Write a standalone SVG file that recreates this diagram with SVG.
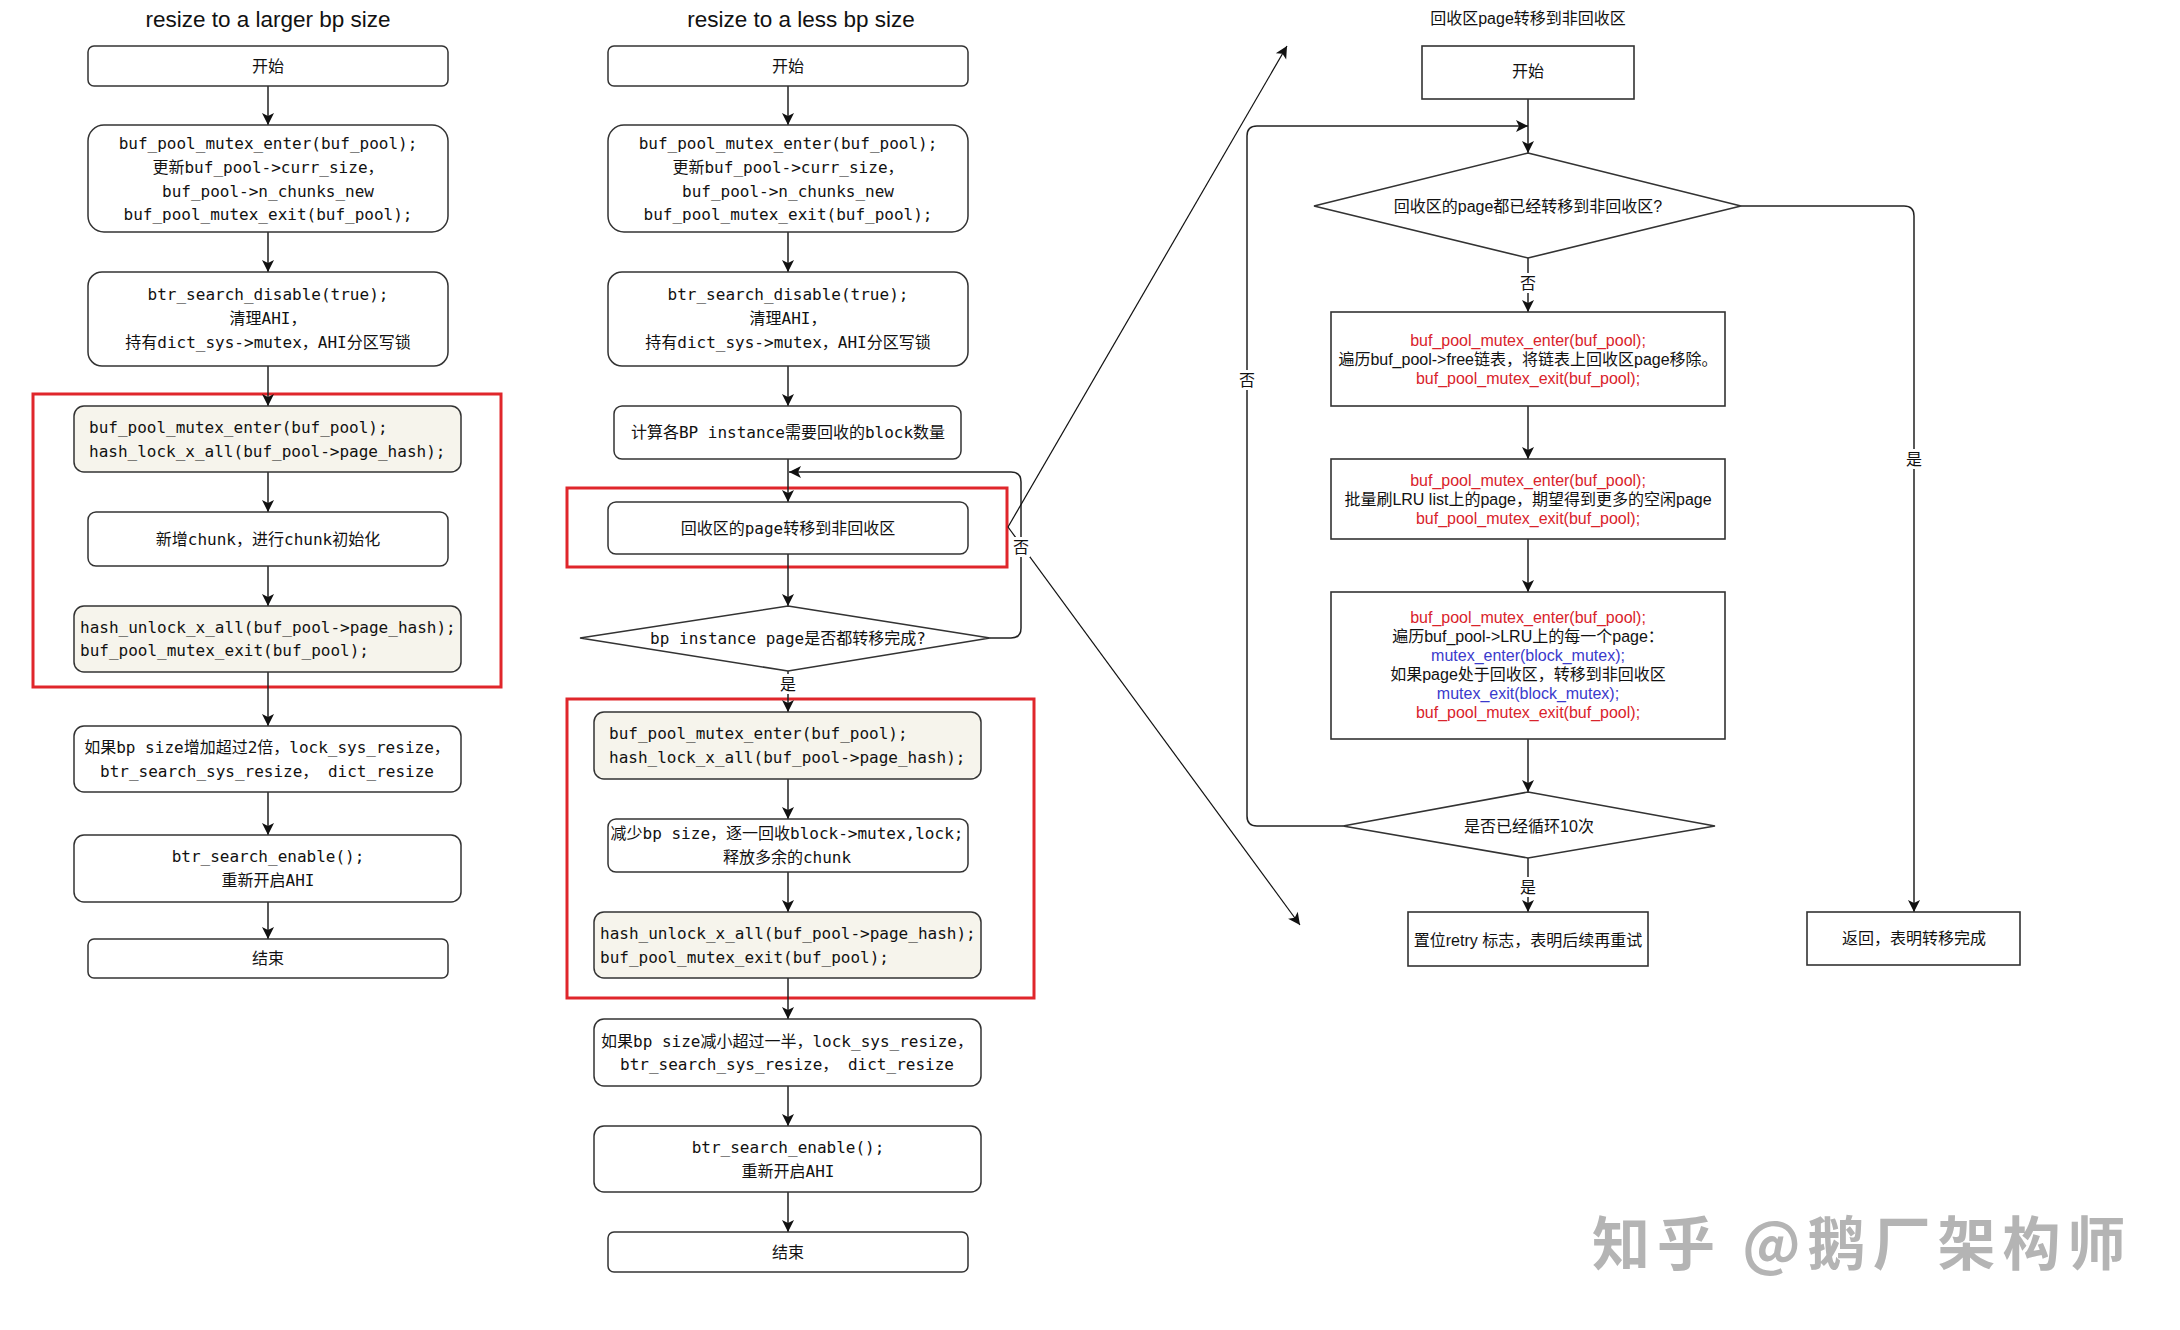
<svg xmlns="http://www.w3.org/2000/svg" width="2180" height="1330" viewBox="0 0 2180 1330">
<style>
.bg{fill:#fff}
.box{fill:#fff;stroke:#333;stroke-width:1.5}
.beige{fill:#f6f4ec;stroke:#333;stroke-width:1.5}
.sq{fill:#fff;stroke:#333;stroke-width:1.6}
.red{fill:none;stroke:#e0262b;stroke-width:3}
.mono{font-family:"DejaVu Sans Mono","Noto Sans CJK SC",monospace;font-size:16px;fill:#111;dominant-baseline:central}
.sans{font-family:"Liberation Sans","Noto Sans CJK SC",sans-serif;font-size:16px;fill:#111;dominant-baseline:central}
.title{font-family:"Liberation Sans","Noto Sans CJK SC",sans-serif;font-size:22.5px;fill:#111;text-anchor:middle}
.c{text-anchor:middle}
.r{fill:#d9232b}
.b{fill:#3a3acc}
.edge{fill:none;stroke:#222;stroke-width:1.5;marker-end:url(#arr)}
.thin{fill:none;stroke:#111;stroke-width:1.2;marker-end:url(#arr)}
.lblbg{fill:#fff}
.wm{font-family:"Noto Sans CJK SC",sans-serif;font-size:58px;font-weight:bold;fill:#b4b4b4;letter-spacing:7px}
</style>
<defs>
<marker id="arr" viewBox="0 0 14 14" refX="13" refY="7" markerWidth="14" markerHeight="14" markerUnits="userSpaceOnUse" orient="auto">
<path d="M1,1 L13,7 L1,13 L4,7 z" fill="#111"/>
</marker>
</defs>
<rect class="bg" x="0" y="0" width="2180" height="1330"/>

<!-- titles -->
<text class="title" x="268" y="27">resize to a larger bp size</text>
<text class="title" x="801" y="27">resize to a less bp size</text>
<text class="sans c" x="1528" y="18">回收区page转移到非回收区</text>

<!-- red highlight frames -->
<g id="highlights">
<rect class="red" x="33" y="394" width="468" height="293"/>
<rect class="red" x="567" y="488" width="440" height="79"/>
<rect class="red" x="567" y="699" width="467" height="299"/>
</g>

<g id="connectors">
<!-- left column -->
<line class="edge" x1="268" y1="86" x2="268" y2="125"/>
<line class="edge" x1="268" y1="232" x2="268" y2="272"/>
<line class="edge" x1="268" y1="366" x2="268" y2="406"/>
<line class="edge" x1="268" y1="472" x2="268" y2="512"/>
<line class="edge" x1="268" y1="566" x2="268" y2="606"/>
<line class="edge" x1="268" y1="672" x2="268" y2="726"/>
<line class="edge" x1="268" y1="792" x2="268" y2="835"/>
<line class="edge" x1="268" y1="902" x2="268" y2="939"/>
<!-- middle column -->
<line class="edge" x1="788" y1="86" x2="788" y2="125"/>
<line class="edge" x1="788" y1="232" x2="788" y2="272"/>
<line class="edge" x1="788" y1="366" x2="788" y2="406"/>
<line class="edge" x1="788" y1="459" x2="788" y2="502"/>
<line class="edge" x1="788" y1="554" x2="788" y2="606"/>
<path class="edge" d="M990,638 L1011,638 Q1021,638 1021,628 L1021,482 Q1021,472 1011,472 L789,472"/>
<line class="edge" x1="788" y1="671" x2="788" y2="712"/>
<line class="edge" x1="788" y1="779" x2="788" y2="819"/>
<line class="edge" x1="788" y1="872" x2="788" y2="912"/>
<line class="edge" x1="788" y1="978" x2="788" y2="1019"/>
<line class="edge" x1="788" y1="1086" x2="788" y2="1126"/>
<line class="edge" x1="788" y1="1192" x2="788" y2="1232"/>
<!-- expansion lines -->
<line class="thin" x1="1008" y1="527" x2="1287" y2="46"/>
<line class="thin" x1="1008" y1="527" x2="1300" y2="925"/>
<!-- right column -->
<line class="edge" x1="1528" y1="99" x2="1528" y2="153"/>
<path class="edge" d="M1343,826 L1257,826 Q1247,826 1247,816 L1247,136 Q1247,126 1257,126 L1528,126"/>
<line class="edge" x1="1528" y1="258" x2="1528" y2="312"/>
<path class="edge" d="M1741,206 L1904,206 Q1914,206 1914,216 L1914,912"/>
<line class="edge" x1="1528" y1="406" x2="1528" y2="459"/>
<line class="edge" x1="1528" y1="539" x2="1528" y2="592"/>
<line class="edge" x1="1528" y1="739" x2="1528" y2="792"/>
<line class="edge" x1="1528" y1="858" x2="1528" y2="912"/>
<!-- labels -->
<rect class="lblbg" x="1012" y="537" width="18" height="20"/>
<text class="sans c" x="1021" y="547">否</text>
<rect class="lblbg" x="779" y="674" width="18" height="20"/>
<text class="sans c" x="788" y="684">是</text>
<rect class="lblbg" x="1238" y="370" width="18" height="20"/>
<text class="sans c" x="1247" y="380">否</text>
<rect class="lblbg" x="1519" y="273" width="18" height="20"/>
<text class="sans c" x="1528" y="283">否</text>
<rect class="lblbg" x="1905" y="449" width="18" height="20"/>
<text class="sans c" x="1914" y="459">是</text>
<rect class="lblbg" x="1519" y="877" width="18" height="20"/>
<text class="sans c" x="1528" y="887">是</text>
</g>

<!-- left column nodes -->
<g id="l-start"><rect class="box" x="88" y="46" width="360" height="40" rx="6"/><text class="mono c" x="268" y="66">开始</text></g>
<g id="l-update"><rect class="box" x="88" y="125" width="360" height="107" rx="16"/>
<text class="mono c" x="268" y="143">buf_pool_mutex_enter(buf_pool);</text>
<text class="mono c" x="268" y="167">更新buf_pool-&gt;curr_size，</text>
<text class="mono c" x="268" y="191">buf_pool-&gt;n_chunks_new</text>
<text class="mono c" x="268" y="214">buf_pool_mutex_exit(buf_pool);</text></g>
<g id="l-disable"><rect class="box" x="88" y="272" width="360" height="94" rx="14"/>
<text class="mono c" x="268" y="294">btr_search_disable(true);</text>
<text class="mono c" x="268" y="318">清理AHI，</text>
<text class="mono c" x="268" y="342">持有dict_sys-&gt;mutex，AHI分区写锁</text></g>
<g id="l-lock"><rect class="beige" x="74" y="406" width="387" height="66" rx="10"/>
<text class="mono" x="89" y="427">buf_pool_mutex_enter(buf_pool);</text>
<text class="mono" x="89" y="451">hash_lock_x_all(buf_pool-&gt;page_hash);</text></g>
<g id="l-chunk"><rect class="box" x="88" y="512" width="360" height="54" rx="8"/>
<text class="mono c" x="268" y="539">新增chunk，进行chunk初始化</text></g>
<g id="l-unlock"><rect class="beige" x="74" y="606" width="387" height="66" rx="10"/>
<text class="mono" x="80" y="627">hash_unlock_x_all(buf_pool-&gt;page_hash);</text>
<text class="mono" x="80" y="650">buf_pool_mutex_exit(buf_pool);</text></g>
<g id="l-resize"><rect class="box" x="74" y="726" width="387" height="66" rx="10"/>
<text class="mono c" x="267" y="747">如果bp size增加超过2倍，lock_sys_resize，</text>
<text class="mono c" x="267" y="771">btr_search_sys_resize， dict_resize</text></g>
<g id="l-enable"><rect class="box" x="74" y="835" width="387" height="67" rx="10"/>
<text class="mono c" x="268" y="856">btr_search_enable();</text>
<text class="mono c" x="268" y="880">重新开启AHI</text></g>
<g id="l-end"><rect class="box" x="88" y="939" width="360" height="39" rx="6"/><text class="mono c" x="268" y="958">结束</text></g>

<!-- middle column nodes -->
<g id="m-start"><rect class="box" x="608" y="46" width="360" height="40" rx="6"/><text class="mono c" x="788" y="66">开始</text></g>
<g id="m-update"><rect class="box" x="608" y="125" width="360" height="107" rx="16"/>
<text class="mono c" x="788" y="143">buf_pool_mutex_enter(buf_pool);</text>
<text class="mono c" x="788" y="167">更新buf_pool-&gt;curr_size，</text>
<text class="mono c" x="788" y="191">buf_pool-&gt;n_chunks_new</text>
<text class="mono c" x="788" y="214">buf_pool_mutex_exit(buf_pool);</text></g>
<g id="m-disable"><rect class="box" x="608" y="272" width="360" height="94" rx="14"/>
<text class="mono c" x="788" y="294">btr_search_disable(true);</text>
<text class="mono c" x="788" y="318">清理AHI，</text>
<text class="mono c" x="788" y="342">持有dict_sys-&gt;mutex，AHI分区写锁</text></g>
<g id="m-calc"><rect class="box" x="614" y="406" width="347" height="53" rx="8"/>
<text class="mono c" x="788" y="432">计算各BP instance需要回收的block数量</text></g>
<g id="m-move"><rect class="box" x="608" y="502" width="360" height="52" rx="8"/>
<text class="mono c" x="788" y="528">回收区的page转移到非回收区</text></g>
<g id="m-check"><polygon class="box" points="788,606 990,638 788,671 580,638"/>
<text class="mono c" x="788" y="638">bp instance page是否都转移完成?</text></g>
<g id="m-lock"><rect class="beige" x="594" y="712" width="387" height="67" rx="10"/>
<text class="mono" x="609" y="733">buf_pool_mutex_enter(buf_pool);</text>
<text class="mono" x="609" y="757">hash_lock_x_all(buf_pool-&gt;page_hash);</text></g>
<g id="m-shrink"><rect class="box" x="608" y="819" width="360" height="53" rx="8"/>
<text class="mono c" x="787" y="833">减少bp size，逐一回收block-&gt;mutex,lock;</text>
<text class="mono c" x="787" y="857">释放多余的chunk</text></g>
<g id="m-unlock"><rect class="beige" x="594" y="912" width="387" height="66" rx="10"/>
<text class="mono" x="600" y="933">hash_unlock_x_all(buf_pool-&gt;page_hash);</text>
<text class="mono" x="600" y="957">buf_pool_mutex_exit(buf_pool);</text></g>
<g id="m-resize"><rect class="box" x="594" y="1019" width="387" height="67" rx="10"/>
<text class="mono c" x="787" y="1041">如果bp size减小超过一半，lock_sys_resize，</text>
<text class="mono c" x="787" y="1064">btr_search_sys_resize， dict_resize</text></g>
<g id="m-enable"><rect class="box" x="594" y="1126" width="387" height="66" rx="10"/>
<text class="mono c" x="788" y="1147">btr_search_enable();</text>
<text class="mono c" x="788" y="1171">重新开启AHI</text></g>
<g id="m-end"><rect class="box" x="608" y="1232" width="360" height="40" rx="6"/><text class="mono c" x="788" y="1252">结束</text></g>

<!-- right column nodes -->
<g id="r-start"><rect class="sq" x="1422" y="46" width="212" height="53"/><text class="sans c" x="1528" y="71">开始</text></g>
<g id="r-check"><polygon class="sq" points="1528,153 1741,206 1528,258 1314,206"/>
<text class="sans c" x="1528" y="206">回收区的page都已经转移到非回收区?</text></g>
<g id="r-free"><rect class="sq" x="1331" y="312" width="394" height="94"/>
<text class="sans c r" x="1528" y="340">buf_pool_mutex_enter(buf_pool);</text>
<text class="sans c" x="1528" y="359">遍历buf_pool-&gt;free链表，将链表上回收区page移除。</text>
<text class="sans c r" x="1528" y="378">buf_pool_mutex_exit(buf_pool);</text></g>
<g id="r-flush"><rect class="sq" x="1331" y="459" width="394" height="80"/>
<text class="sans c r" x="1528" y="480">buf_pool_mutex_enter(buf_pool);</text>
<text class="sans c" x="1528" y="499">批量刷LRU list上的page，期望得到更多的空闲page</text>
<text class="sans c r" x="1528" y="518">buf_pool_mutex_exit(buf_pool);</text></g>
<g id="r-lru"><rect class="sq" x="1331" y="592" width="394" height="147"/>
<text class="sans c r" x="1528" y="617">buf_pool_mutex_enter(buf_pool);</text>
<text class="sans c" x="1528" y="636">遍历buf_pool-&gt;LRU上的每一个page：</text>
<text class="sans c b" x="1528" y="655">mutex_enter(block_mutex);</text>
<text class="sans c" x="1528" y="674">如果page处于回收区，转移到非回收区</text>
<text class="sans c b" x="1528" y="693">mutex_exit(block_mutex);</text>
<text class="sans c r" x="1528" y="712">buf_pool_mutex_exit(buf_pool);</text></g>
<g id="r-loop"><polygon class="sq" points="1528,792 1715,826 1528,858 1343,826"/>
<text class="sans c" x="1529" y="826">是否已经循环10次</text></g>
<g id="r-retry"><rect class="sq" x="1408" y="912" width="240" height="54"/>
<text class="sans c" x="1528" y="940">置位retry 标志，表明后续再重试</text></g>
<g id="r-done"><rect class="sq" x="1807" y="912" width="213" height="53"/>
<text class="sans c" x="1914" y="938">返回，表明转移完成</text></g>

<!-- watermark -->
<text class="wm" x="1592" y="1265">知乎 @鹅厂架构师</text>
</svg>
